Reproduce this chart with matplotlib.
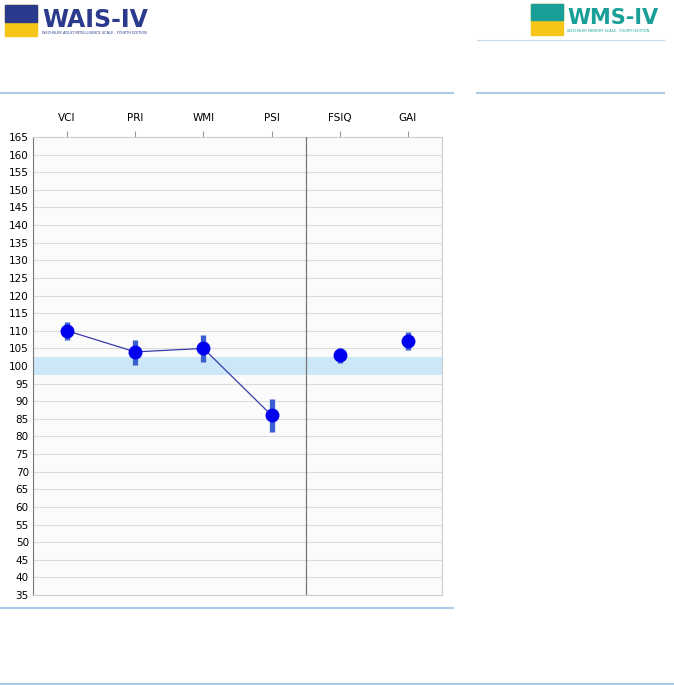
import matplotlib
matplotlib.use('Agg')
import matplotlib.pyplot as plt
import matplotlib.patches as mpatches
import numpy as np

# data
categories = ['VCI', 'PRI', 'WMI', 'PSI', 'FSIQ', 'GAI']
scores = [110, 104, 105, 86, 103, 107]
ci_low = [107.3, 100.4, 101.2, 81.4, 100.9, 104.4]
ci_high = [112.5, 107.4, 108.8, 90.6, 105.0, 109.6]
yticks = list(range(35, 166, 5))
band = (97.5, 102.5)

W, H = 674, 685
fig = plt.figure(figsize=(W / 100, H / 100), dpi=100)
fig.patch.set_facecolor('white')

ax = fig.add_axes([33 / W, 1 - 595 / H, 409 / W, 458 / H])
ax.set_facecolor('#fbfbfb')
x = np.arange(len(categories))
ax.set_xlim(-0.5, len(categories) - 0.5)
ax.set_ylim(35, 165)

# grid
for y in yticks[1:-1]:
    ax.axhline(y, color='#dcdcdc', lw=0.8, zorder=1)
ax.axhspan(band[0], band[1], color='#cce8f8', zorder=2, lw=0)
ax.axvline(3.5, color='#777777', lw=0.9, zorder=3)

# connecting line for index scores
ax.plot(x[:4], scores[:4], color='#3a3aa8', lw=0.9, zorder=4)
# confidence intervals
for xi, lo, hi in zip(x, ci_low, ci_high):
    ax.plot([xi, xi], [lo, hi], color='#3a5fd0', lw=3.8, solid_capstyle='butt', zorder=5)
ax.plot(x, scores, 'o', color='#0000ee', ms=9, zorder=6)

ax.set_yticks(yticks)
ax.set_yticklabels([str(v) for v in yticks], fontsize=7.5)
ax.set_xticks(x)
ax.set_xticklabels(categories, fontsize=7.5)
ax.xaxis.tick_top()
ax.tick_params(axis='x', length=4, color='#999999', pad=6)
ax.tick_params(axis='y', length=0, pad=3)
for side in ['top', 'right', 'bottom']:
    ax.spines[side].set_color('#cccccc')
ax.spines['left'].set_color('#777777')

# page decoration: rules
def rule(x0, x1, y, color='#a9cbe8', lw=1.5):
    fig.add_artist(plt.Line2D([x0 / W, x1 / W], [1 - y / H, 1 - y / H], color=color, lw=lw))

rule(0, 453, 93)
rule(477, 664, 93)
rule(477, 664, 40, color='#c8d8e8', lw=0.8)
rule(0, 453, 608)
rule(0, 674, 684)

# logos
fig.add_artist(mpatches.Rectangle((5 / W, 1 - 36 / H), 32 / W, 31 / H, color='#f5c518'))
fig.add_artist(mpatches.Rectangle((5 / W, 1 - 22 / H), 32 / W, 17 / H, color='#2b3a8c'))
fig.text(42 / W, 1 - 20 / H, 'WAIS-IV', fontsize=17, fontweight='bold', color='#2b3a8c', va='center')
fig.text(42 / W, 1 - 33 / H, 'WECHSLER ADULT INTELLIGENCE SCALE - FOURTH EDITION', fontsize=2.5, color='#2b3a8c', va='center')
fig.add_artist(mpatches.Rectangle((531 / W, 1 - 35 / H), 32 / W, 31 / H, color='#f5c518'))
fig.add_artist(mpatches.Rectangle((531 / W, 1 - 20 / H), 32 / W, 16 / H, color='#1a9f98'))
fig.text(567 / W, 1 - 18 / H, 'WMS-IV', fontsize=15, fontweight='bold', color='#1a9f98', va='center')
fig.text(567 / W, 1 - 31 / H, 'WECHSLER MEMORY SCALE - FOURTH EDITION', fontsize=2.5, color='#1a9f98', va='center')

fig.savefig('out.png', dpi=100)
